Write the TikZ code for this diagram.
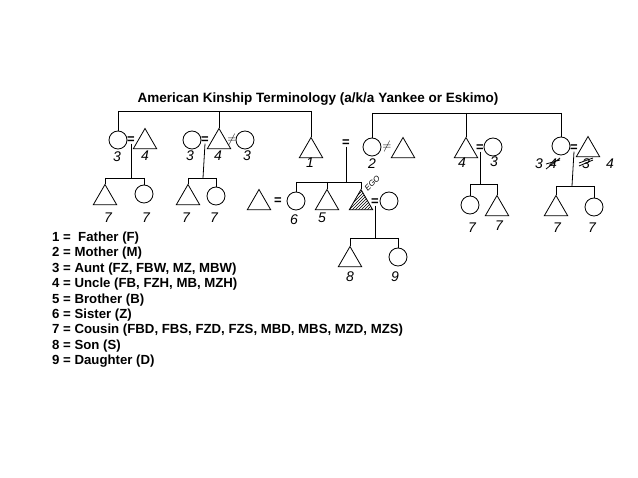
\documentclass[tikz,border=0pt]{standalone}
\usepackage{fontspec}
\setmainfont{Liberation Sans}
\usetikzlibrary{shapes.geometric,patterns}
\begin{document}
\begin{tikzpicture}[x=1pt,y=-1pt,
  tri/.style={draw,thick,regular polygon,regular polygon sides=3,minimum size=27pt,inner sep=0pt},
  cir/.style={draw,thick,circle,minimum size=18pt,inner sep=0pt},
  eq/.style={inner sep=0pt,font=\bfseries\fontsize{13}{13}\selectfont},
  hw/.style={font=\itshape\fontsize{14}{14}\selectfont},
  ln/.style={thick},
  leg/.style={anchor=west,font=\bfseries\fontsize{13.2}{14}\selectfont,inner sep=0pt}]
\useasboundingbox (0,0) rectangle (638,478);
\node[font=\bfseries\fontsize{13.5}{14}\selectfont] (title) at (318,99) {American Kinship Terminology (a/k/a Yankee or Eskimo)};
% top sibling lines
\coordinate (tl) at (118,111); \coordinate (tr) at (311,111);
\coordinate (rl) at (372,113); \coordinate (rr) at (561,113);
\draw[ln] (tl) -- (tr);
\draw[ln] (rl) -- (rr);
% family A
\node[cir] (a1) at (118,140) {};
\node[tri] (a2) at (145,142) {};
\node[eq] (aeq) at (131,140) {=};
\draw[ln] (tl) -- (a1.north);
\coordinate (ad) at (131,178);
\draw[ln] (aeq.south) -- (ad);
\node[tri] (a3) at (105,198) {};
\node[cir] (a4) at (144,194) {};
\draw[ln] (a3.north |- ad) -- (a4.north |- ad);
\draw[ln] (a3.north |- ad) -- (a3.north);
\draw[ln] (a4.north |- ad) -- (a4.north);
\node[hw] (la1) at (117,157) {3};
\node[hw] (la2) at (145,156) {4};
\node[hw] (la3) at (108,218) {7};
\node[hw] (la4) at (146,218) {7};
% family B
\node[cir] (b1) at (192,140) {};
\node[tri] (b2) at (219,142) {};
\node[cir] (b3) at (245,140) {};
\node[eq] (beq) at (205,140) {=};
\node[eq] (bneq) at (232,140) {$\neq$};
\draw[ln] (b2.north |- tl) -- (b2.north);
\coordinate (bd) at (203,178);
\draw[ln] (beq.south) -- (bd);
\node[tri] (b4) at (188,198) {};
\node[cir] (b5) at (216,196) {};
\draw[ln] (b4.north |- bd) -- (b5.north |- bd);
\draw[ln] (b4.north |- bd) -- (b4.north);
\draw[ln] (b5.north |- bd) -- (b5.north);
\node[hw] (lb1) at (190,156) {3};
\node[hw] (lb2) at (218,156) {4};
\node[hw] (lb3) at (247,156) {3};
\node[hw] (lb4) at (186,218) {7};
\node[hw] (lb5) at (214,218) {7};
% father, mother
\node[tri] (f) at (311,151) {};
\draw[ln] (tr) -- (f.north);
\node[hw] (lf) at (310,163) {1};
\node[eq] (feq) at (346,143) {=};
\node[cir] (m) at (372,147) {};
\draw[ln] (rl) -- (m.north);
\node[eq] (mneq) at (387,147) {$\neq$};
\node[tri] (ms) at (403,151) {};
\node[hw] (lm) at (372,164) {2};
% ego generation
\coordinate (ed) at (346,182);
\draw[ln] (feq.south) -- (ed);
\node[cir] (z) at (296,201) {};
\node[tri] (bro) at (327,203) {};
\node[tri,pattern=north east lines] (ego) at (361,203) {};
\draw[ln] (z.north |- ed) -- (ego.north |- ed);
\draw[ln] (z.north |- ed) -- (z.north);
\draw[ln] (bro.north |- ed) -- (bro.north);
\draw[ln] (ego.north |- ed) -- (ego.north);
\node[tri] (zh) at (259,203) {};
\node[eq] (zeq) at (278,201) {=};
\node[hw] (l6) at (294,220) {6};
\node[hw] (l5) at (322,218) {5};
\node[font=\itshape\fontsize{8}{8}\selectfont,rotate=45,anchor=south west,inner sep=0pt] (legos) at (368,192) {EGO};
\node[eq] (egoeq) at (375,202) {=};
\node[cir] (w) at (389,201) {};
\coordinate (cd) at (375,238);
\draw[ln] (egoeq.south) -- (cd);
\node[tri] (s) at (350,260) {};
\node[cir] (d) at (398,257) {};
\draw[ln] (s.north |- cd) -- (d.north |- cd);
\draw[ln] (s.north |- cd) -- (s.north);
\draw[ln] (d.north |- cd) -- (d.north);
\node[hw] (l8) at (350,277) {8};
\node[hw] (l9) at (395,277) {9};
% family C
\node[tri] (c1) at (466,151) {};
\node[eq] (ceq) at (480,148) {=};
\node[cir] (c2) at (493,147) {};
\draw[ln] (c1.north |- rl) -- (c1.north);
\coordinate (cdd) at (480,184);
\draw[ln] (ceq.south) -- (cdd);
\node[cir] (c3) at (470,205) {};
\node[tri] (c4) at (497,209) {};
\draw[ln] (c3.north |- cdd) -- (c4.north |- cdd);
\draw[ln] (c3.north |- cdd) -- (c3.north);
\draw[ln] (c4.north |- cdd) -- (c4.north);
\node[hw] (lc1) at (462,163) {4};
\node[hw] (lc2) at (494,162) {3};
\node[hw] (lc3) at (472,228) {7};
\node[hw] (lc4) at (499,226) {7};
% family D
\node[cir] (d1) at (561,146) {};
\node[eq] (deq) at (574,148) {=};
\node[tri] (d2) at (588,150) {};
\draw[ln] (rr) -- (d1.north);
\coordinate (ddd) at (572,186);
\draw[ln] (deq.south) -- (ddd);
\node[tri] (d3) at (556,209) {};
\node[cir] (d4) at (594,207) {};
\draw[ln] (d3.north |- ddd) -- (d4.north |- ddd);
\draw[ln] (d3.north |- ddd) -- (d3.north);
\draw[ln] (d4.north |- ddd) -- (d4.north);
\node[hw] (ld1) at (539,164) {3};
\node[hw] (ld2) at (553,164) {4};
\draw[ln] (546,169) -- (560,158) (546,164) -- (560,160);
\node[hw] (ld3) at (586,164) {3};
\draw[ln] (579,166) -- (593,160) (579,163) -- (593,158);
\node[hw] (ld4) at (610,164) {4};
\node[hw] (ld5) at (557,228) {7};
\node[hw] (ld6) at (592,228) {7};
% legend
\node[leg] (k1) at (52,238) {1 =\ \ Father (F)};
\node[leg] (k2) at (52,253.4) {2 = Mother (M)};
\node[leg] (k3) at (52,268.8) {3 = Aunt (FZ, FBW, MZ, MBW)};
\node[leg] (k4) at (52,284.2) {4 = Uncle (FB, FZH, MB, MZH)};
\node[leg] (k5) at (52,299.6) {5 = Brother (B)};
\node[leg] (k6) at (52,315) {6 = Sister (Z)};
\node[leg] (k7) at (52,330.4) {7 = Cousin (FBD, FBS, FZD, FZS, MBD, MBS, MZD, MZS)};
\node[leg] (k8) at (52,345.8) {8 = Son (S)};
\node[leg] (k9) at (52,361.2) {9 = Daughter (D)};
\end{tikzpicture}
\end{document}
